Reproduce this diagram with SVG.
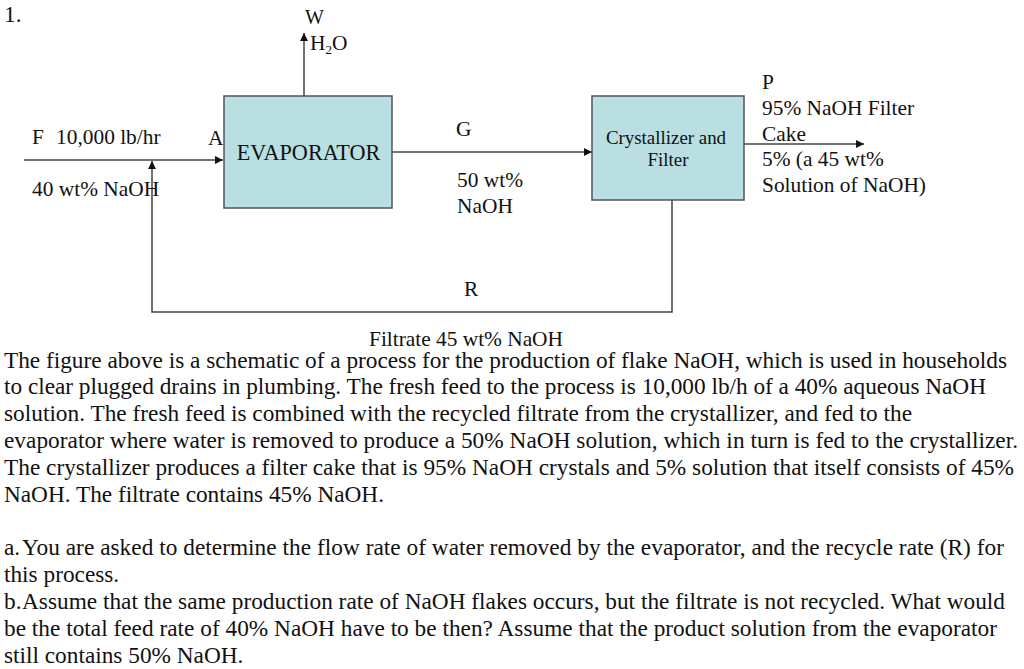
<svg xmlns="http://www.w3.org/2000/svg" width="1024" height="669" viewBox="0 0 1024 669">
<style>
text{font-family:"Liberation Serif","Times New Roman",serif;fill:#111}
.d{font-size:21.4px}
.b{font-size:23.3px}
.box{fill:#b9dfe3;stroke:#555;stroke-width:1.5}
.c{fill:none;stroke:#444;stroke-width:1.5}
</style>
<defs><marker id="a" markerUnits="userSpaceOnUse" markerWidth="9" markerHeight="8" refX="8" refY="4" orient="auto"><path d="M0 0L8 4L0 8Z" fill="#111"/></marker></defs>
<rect width="1024" height="669" fill="#fff"/>
<g id="connectors">
<path class="c" d="M24 160H223" marker-end="url(#a)"/>
<path class="c" d="M304 96V33" marker-end="url(#a)"/>
<path class="c" d="M392 152H592" marker-end="url(#a)"/>
<path class="c" d="M744 144H864" marker-end="url(#a)"/>
<path class="c" d="M672 200V312H152V161" marker-end="url(#a)"/>
</g>
<g id="evaporator"><rect class="box" x="224" y="96" width="168" height="112"/><text x="308.500" y="160" font-size="22.200" text-anchor="middle">EVAPORATOR</text></g>
<g id="crystallizer"><rect class="box" x="592" y="96" width="152" height="104"/><text x="666" y="144" font-size="18.900" text-anchor="middle">Crystallizer and</text><text x="668" y="166" font-size="18.900" text-anchor="middle">Filter</text></g>
<g id="labels" class="d">
<text x="4" y="22" font-size="23.300">1.</text>
<text x="305" y="24" font-size="20">W</text>
<text x="310" y="50">H<tspan font-size="13" dy="4">2</tspan><tspan dy="-4">O</tspan></text>
<text x="32" y="144">F</text><text x="56" y="144">10,000 lb/hr</text>
<text x="32" y="196">40 wt% NaOH</text>
<text x="208" y="145">A</text>
<text x="456" y="136">G</text>
<text x="457" y="187">50 wt%</text>
<text x="457" y="213">NaOH</text>
<text x="464" y="296">R</text>
<text x="762" y="89">P</text>
<text x="762" y="115">95% NaOH Filter</text>
<text x="762" y="141">Cake</text>
<text x="762" y="166">5% (a 45 wt%</text>
<text x="762" y="192">Solution of NaOH)</text>
<text x="369" y="346" textLength="194">Filtrate 45 wt% NaOH</text>
</g>
<g id="body" class="b">
<text x="4" y="367.500" textLength="1003">The figure above is a schematic of a process for the production of flake NaOH, which is used in households</text>
<text x="4" y="393.500" textLength="982">to clear plugged drains in plumbing. The fresh feed to the process is 10,000 lb/h of a 40% aqueous NaOH</text>
<text x="4" y="420.500" textLength="908">solution. The fresh feed is combined with the recycled filtrate from the crystallizer, and fed to the</text>
<text x="4" y="447.500" textLength="1014">evaporator where water is removed to produce a 50% NaOH solution, which in turn is fed to the crystallizer.</text>
<text x="4" y="474.500" textLength="1010">The crystallizer produces a filter cake that is 95% NaOH crystals and 5% solution that itself consists of 45%</text>
<text x="4" y="501.500" textLength="380">NaOH. The filtrate contains 45% NaOH.</text>
<text x="4" y="554.500">a.</text><text x="22" y="554.500" textLength="982">You are asked to determine the flow rate of water removed by the evaporator, and the recycle rate (R) for</text>
<text x="4" y="581.500">this process.</text>
<text x="4" y="608.500">b.</text><text x="22" y="608.500" textLength="983">Assume that the same production rate of NaOH flakes occurs, but the filtrate is not recycled. What would</text>
<text x="4" y="635.500" textLength="993">be the total feed rate of 40% NaOH have to be then? Assume that the product solution from the evaporator</text>
<text x="4" y="662.500">still contains 50% NaOH.</text>
</g>
</svg>
